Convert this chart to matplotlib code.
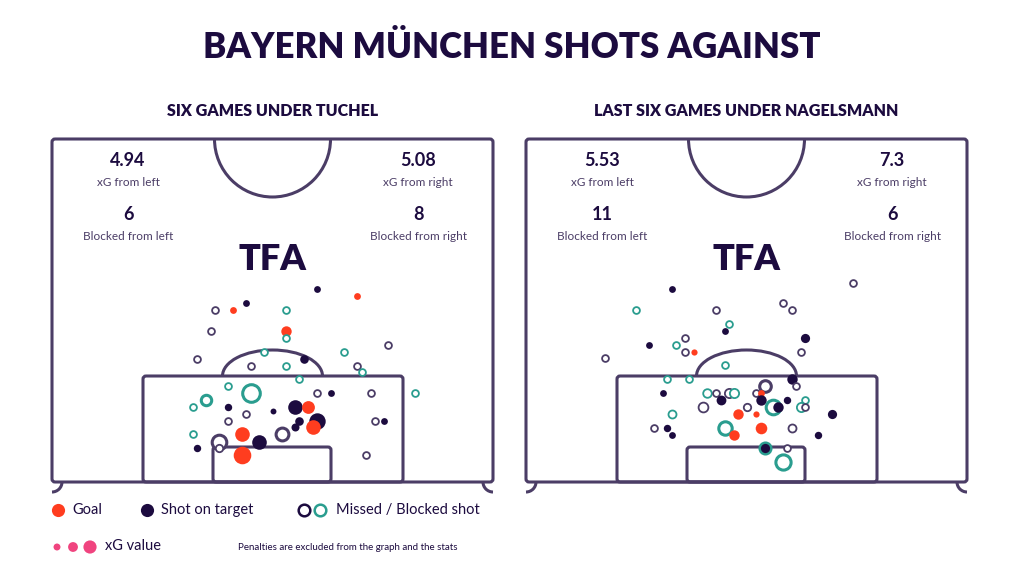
import matplotlib
matplotlib.use("Agg")
import matplotlib.pyplot as plt
from matplotlib.patches import Arc, FancyBboxPatch

NAVY = "#1c0b3f"; LINE = "#4b3d66"; RED = "#ff3d1f"; TEAL = "#2a9d8f"; PINK = "#f0447f"

title = "BAYERN MÜNCHEN SHOTS AGAINST"
subtitles = ["SIX GAMES UNDER TUCHEL", "LAST SIX GAMES UNDER NAGELSMANN"]
xg_left = ["4.94", "5.53"]
xg_right = ["5.08", "7.3"]
blk_left = ["6", "11"]
blk_right = ["8", "6"]

# shots: x, y in pitch coords (from pitch left edge / top), type, xG
# type: g=goal, t=on target, m=missed, b=blocked
tuchel_x = [265,305,194,163,181,234,159,234,234,336,292,212,145,252,199,234,305,310,247,363,265,279,319,176,199,154,141,176,243,256,194,221,176,247,265,323,332,243,261,230,190,207,141,167,167,145,190,314]
tuchel_y = [150,157,164,171,171,171,192,192,199,206,213,213,220,220,227,227,227,233,240,254,254,254,254,247,254,261,268,268,268,268,275,272,282,282,282,282,282,288,288,295,295,303,295,303,309,309,316,316]
tuchel_t = "tgtmgbmgbmbbmtmbmbbbmtmbbbbttgmtmttmttgmgtbmmtgm"
tuchel_xg = [.02,.02,.02,.02,.02,.02,.02,.08,.02,.02,.02,.02,.02,.05,.02,.02,.02,.02,.02,.02,.02,.02,.02,.02,.2,.08,.02,.03,.15,.12,.02,.005,.02,.05,.18,.02,.02,.04,.15,.12,.15,.15,.02,.15,.03,.03,.2,.02]

nagel_x = [327,146,110,190,257,266,203,199,123,159,150,159,168,79,279,275,199,141,163,266,270,239,137,181,190,203,208,195,230,235,235,261,279,177,221,247,252,275,279,212,230,306,146,128,141,146,199,235,266,208,292,239,239,261,257]
nagel_y = [144,150,171,171,164,171,185,192,206,199,206,213,213,219,199,213,226,240,240,240,247,247,254,254,254,254,254,261,254,254,261,261,261,268,268,268,268,268,268,275,275,275,275,289,289,296,289,289,289,296,296,309,309,309,323]
nagel_t = "mtbmmmbttmbmgmtmbbbtmmtbmmbtmgttbmmbtbmggtbmttbgmgtbtmb"
nagel_xg = [.02,.02,.02,.02,.02,.02,.02,.02,.02,.02,.02,.02,.01,.02,.06,.02,.02,.02,.02,.08,.02,.1,.02,.05,.02,.06,.06,.07,.02,.02,.08,.03,.02,.07,.03,.15,.08,.06,.02,.08,.01,.06,.04,.02,.03,.02,.13,.1,.04,.08,.03,.09,.06,.02,.16]

fig = plt.figure(figsize=(10.24, 5.78), dpi=100)
fig.patch.set_facecolor("white")
ax = fig.add_axes([0, 0, 1, 1])
ax.set_xlim(0, 1024); ax.set_ylim(578, 0); ax.axis("off")

ax.text(512, 48, title, ha="center", va="center", fontsize=25, fontweight="heavy", family="Lato", color=NAVY)

def radius(v):
    return 2.8 + 30 * v

def pitch(x0, sub, xl, xr, bl, br, xs, ys, ts, xgs):
    w, h = 441, 343; y0 = 139
    cx = x0 + w / 2
    kw = dict(fill=False, ec=LINE, lw=2.2)
    ax.add_patch(FancyBboxPatch((x0, y0), w, h, boxstyle="round,pad=0,rounding_size=3", **kw))
    ax.add_patch(FancyBboxPatch((x0 + 91, 376), 260, 106, boxstyle="round,pad=0,rounding_size=3", **kw))
    ax.add_patch(FancyBboxPatch((x0 + 161, 447), 118, 35, boxstyle="round,pad=0,rounding_size=3", **kw))
    ax.add_patch(Arc((cx, y0), 116, 116, theta1=0, theta2=180, ec=LINE, lw=2.2))
    ax.add_patch(Arc((cx, 376), 100, 52, theta1=180, theta2=360, ec=LINE, lw=2.2))
    ax.add_patch(Arc((x0, 482), 20, 20, theta1=0, theta2=90, ec=LINE, lw=2.2))
    ax.add_patch(Arc((x0 + w, 482), 20, 20, theta1=90, theta2=180, ec=LINE, lw=2.2))
    ax.text(cx, 111, sub, ha="center", va="center", fontsize=11.5, fontweight="heavy", family="Lato", color=NAVY)
    for xx, v1, v2, lab in [(x0 + 76, xl, bl, "left"), (x0 + w - 75, xr, br, "right")]:
        ax.text(xx, 161, v1, ha="center", va="center", fontsize=13, fontweight="bold", family="Lato", color=NAVY)
        ax.text(xx, 183, "xG from " + lab, ha="center", va="center", fontsize=8.5, color=LINE, family="Lato")
        ax.text(xx, 215, v2, ha="center", va="center", fontsize=13, fontweight="bold", family="Lato", color=NAVY)
        ax.text(xx, 237, "Blocked from " + lab, ha="center", va="center", fontsize=8.5, color=LINE, family="Lato")
    ax.text(cx, 259, "TFA", ha="center", va="center", fontsize=26, fontweight="heavy", family="Lato", color=NAVY)
    for x, y, t, v in zip(xs, ys, ts, xgs):
        r = radius(v); s = (1.44 * r) ** 2
        if t == "g":
            ax.scatter(x0 + x, y0 + y, s=s, c=RED, lw=0, zorder=3)
        elif t == "t":
            ax.scatter(x0 + x, y0 + y, s=s, c=NAVY, lw=0, zorder=3)
        else:
            col = LINE if t == "m" else TEAL
            ax.scatter(x0 + x, y0 + y, s=s, facecolors="white", edgecolors=col, lw=1.3 if r < 5 else 2.2, zorder=3)

pitch(52, subtitles[0], xg_left[0], xg_right[0], blk_left[0], blk_right[0], tuchel_x, tuchel_y, tuchel_t, tuchel_xg)
pitch(526, subtitles[1], xg_left[1], xg_right[1], blk_left[1], blk_right[1], nagel_x, nagel_y, nagel_t, nagel_xg)

# legend
ax.scatter([58], [510], s=90, c=RED, lw=0)
ax.text(72, 510, "Goal", va="center", fontsize=10.5, color=NAVY, family="Lato")
ax.scatter([147], [510], s=90, c=NAVY, lw=0)
ax.text(161, 510, "Shot on target", va="center", fontsize=10.5, color=NAVY, family="Lato")
ax.scatter([304], [510], s=70, facecolors="white", edgecolors=NAVY, lw=1.8)
ax.scatter([320], [510], s=70, facecolors="white", edgecolors=TEAL, lw=1.8)
ax.text(336, 510, "Missed / Blocked shot", va="center", fontsize=10.5, color=NAVY, family="Lato")
ax.scatter([57, 73, 90], [547, 547, 547], s=[25, 50, 90], c=PINK, lw=0)
ax.text(105, 546, "xG value", va="center", fontsize=10.5, color=NAVY, family="Lato")
ax.text(238, 547, "Penalties are excluded from the graph and the stats", va="center", fontsize=7, color=NAVY, family="Lato")

fig.savefig("out.png", dpi=100, facecolor="white")
